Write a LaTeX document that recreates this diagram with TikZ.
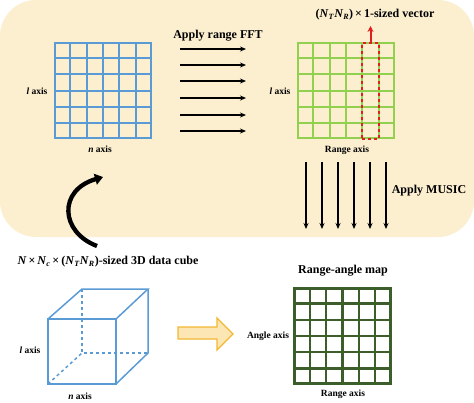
\documentclass[tikz,border=0pt]{standalone}
\usepackage{fontspec}
\setmainfont{Liberation Serif}
\usetikzlibrary{arrows.meta,calc}
\definecolor{beige}{HTML}{FCEFD0}
\definecolor{gblue}{HTML}{5B9BD5}
\definecolor{lgreen}{HTML}{92D050}
\definecolor{dgreen}{HTML}{3B5E2B}
\definecolor{vred}{HTML}{E02020}
\definecolor{aborder}{HTML}{F4B731}
\definecolor{afill}{HTML}{FCE6B4}
\newcommand{\mybi}[1]{\textbf{\textit{#1}}}
\newcommand{\mysub}[1]{\textsubscript{\mybi{#1}}}
\tikzset{
  gridbox/.style={draw=#1, line width=2pt, minimum width=96pt, minimum height=95pt, inner sep=0pt},
  big/.style={font=\fontsize{12}{14}\selectfont\bfseries, inner sep=1pt},
  small/.style={font=\fontsize{9.5}{11}\selectfont\bfseries, inner sep=1pt},
  harrow/.style={line width=1.5pt, -{Stealth[length=6pt,width=5pt]}},
  cubeline/.style={draw=gblue, line width=1.5pt},
}
\begin{document}
\begin{tikzpicture}[x=1pt,y=-1pt]
\useasboundingbox (0,0) rectangle (474,402);
\fill[beige, rounded corners=36pt] (0,0) rectangle (474,237);

% left blue grid
\node[gridbox=gblue] (g1) at (103,90.5) {};
\foreach \i in {1,...,5}{
  \draw[gblue, line width=2pt] ($(g1.north west)!\i/6!(g1.north east)$) -- ($(g1.south west)!\i/6!(g1.south east)$);
  \draw[gblue, line width=2pt] ($(g1.north west)!\i/6!(g1.south west)$) -- ($(g1.north east)!\i/6!(g1.south east)$);
}
\node[small] (l1) at (37,91) {\mybi{l} axis};
\node[small] (n1) at (100,149) {\mybi{n} axis};

% apply range FFT
\node[big] (fft) at (218,36) {Apply range FFT};
\foreach \yy [count=\k] in {49,65,81,98,115,131}{
  \coordinate (fa\k) at (180,\yy);
  \coordinate (fb\k) at (246,\yy);
  \draw[harrow] (fa\k) -- (fb\k);
}

% green grid
\node[gridbox=lgreen] (g2) at (346,90.5) {};
\foreach \i in {1,...,5}{
  \draw[lgreen, line width=2pt] ($(g2.north west)!\i/6!(g2.north east)$) -- ($(g2.south west)!\i/6!(g2.south east)$);
  \draw[lgreen, line width=2pt] ($(g2.north west)!\i/6!(g2.south west)$) -- ($(g2.north east)!\i/6!(g2.south east)$);
}
\node[draw=vred, dashed, line width=1.6pt, minimum width=17pt, minimum height=96pt, inner sep=0pt] (col) at (370.5,91) {};
\node[big] (vec) at (375,15) {(\mybi{N}\mysub{T}\mybi{N}\mysub{R})\,×\,1-sized vector};
\coordinate (vt) at (370.5,26);
\draw[vred, line width=2pt, -{Stealth[length=6pt,width=6pt]}] (col.north) -- (vt);
\node[small] (l2) at (280,91) {\mybi{l} axis};
\node[small] (r2) at (347,150) {Range axis};

% apply MUSIC
\foreach \xx [count=\k] in {306,322,338,354,370,386}{
  \coordinate (ma\k) at (\xx,162);
  \coordinate (mb\k) at (\xx,229);
  \draw[harrow] (ma\k) -- (mb\k);
}
\node[big] (music) at (429,191) {Apply MUSIC};

% curved arrow
\coordinate (ca) at (97,246);
\coordinate (cb) at (103,177);
\draw[line width=4.3pt, -{Triangle[length=8pt,width=11pt]}] (ca) .. controls (60,232) and (58,190) .. (cb);

% cube
\node[big] (cubelab) at (108,262) {\mybi{N}\,×\,\mybi{N}\mysub{c}\,×\,(\mybi{N}\mysub{T}\mybi{N}\mysub{R})-sized 3D data cube};
\coordinate (f1) at (48,319);
\coordinate (f2) at (116,319);
\coordinate (f3) at (116,384);
\coordinate (f4) at (48,384);
\coordinate (b1) at (82,289);
\coordinate (b2) at (148,289);
\coordinate (b3) at (148,353);
\coordinate (b4) at (82,353);
\draw[cubeline] (f1) -- (f2) -- (f3) -- (f4) -- cycle;
\draw[cubeline] (f1) -- (b1) -- (b2) -- (f2);
\draw[cubeline] (b2) -- (b3) -- (f3);
\draw[cubeline, dashed] (b1) -- (b4) -- (b3);
\draw[cubeline, dashed] (f4) -- (b4);
\node[small] (l3) at (30,350) {\mybi{l} axis};
\node[small] (n3) at (80,396) {\mybi{n} axis};

% block arrow
\draw[aborder, fill=afill, line width=1.3pt] (178,327) -- (217,327) -- (217,318) -- (233,334) -- (217,350) -- (217,339) -- (178,339) -- cycle;

% range-angle map
\node[gridbox=dgreen, line width=2.5pt] (g3) at (342.5,336) {};
\foreach \i in {1,...,5}{
  \draw[dgreen, line width=2.3pt] ($(g3.north west)!\i/6!(g3.north east)$) -- ($(g3.south west)!\i/6!(g3.south east)$);
  \draw[dgreen, line width=2.3pt] ($(g3.north west)!\i/6!(g3.south west)$) -- ($(g3.north east)!\i/6!(g3.south east)$);
}
\node[big] (ram) at (343,271) {Range-angle map};
\node[small] (a3) at (268,336) {Angle axis};
\node[small] (r3) at (343,394) {Range axis};
\end{tikzpicture}
\end{document}
